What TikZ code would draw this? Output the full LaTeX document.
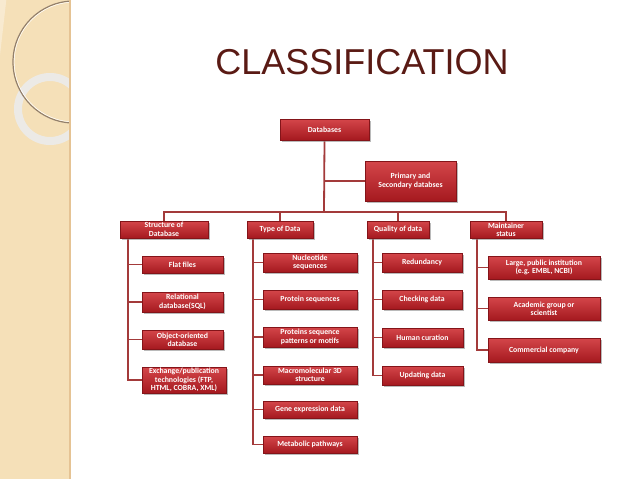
\documentclass[tikz,border=0pt]{standalone}
\usepackage{fontspec}
\setmainfont{Carlito}
\newfontfamily\titlefont{Liberation Sans}
\usetikzlibrary{shadows,backgrounds}
\definecolor{boxtop}{HTML}{D4464A}
\definecolor{boxbot}{HTML}{A5191F}
\definecolor{linkc}{HTML}{A33A3A}
\definecolor{bandc}{HTML}{F5E0B8}
\definecolor{titlec}{HTML}{5A1A14}
\tikzset{
  x=1pt,y=-1pt,
  bx/.style={rectangle, draw=boxbot!80!black, line width=0.4pt, top color=boxtop, bottom color=boxbot,
    text=white, font=\fontsize{7.8}{8.4}\selectfont\bfseries, align=center, inner sep=0.5pt,
    drop shadow={shadow xshift=1.5pt, shadow yshift=-1.5pt, fill=black!45, opacity=0.6}},
  lk/.style={draw=linkc, line width=1.8pt}
}
\newcommand{\bxn}[6]{\node[bx, minimum width=#4-#2, minimum height=#5-#3] (#1) at ({(#2+#4)/2},{(#3+#5)/2}) {#6};}
\begin{document}
\begin{tikzpicture}
\useasboundingbox (0,0) rectangle (638,479);
% boxes
\bxn{db}{280}{119}{369}{140}{Databases}
\bxn{pr}{365}{161}{456}{201}{Primary and\\Secondary databses}
\bxn{sd}{120}{221}{208}{238}{Structure of\\Database}
\bxn{td}{247}{221}{313}{238}{Type of Data}
\bxn{qd}{367}{221}{429}{238}{Quality of data}
\bxn{ms}{470}{221}{542}{238}{Maintainer\\status}
\bxn{ff}{142}{256}{223}{273}{Flat files}
\bxn{rd}{142}{292}{223}{312}{Relational\\database(SQL)}
\bxn{oo}{142}{330}{223}{349}{Object-oriented\\database}
\bxn{ex}{142}{367}{226}{393}{Exchange/publication\\technologies (FTP,\\HTML, COBRA, XML)}
\bxn{ns}{263}{253}{357}{272}{Nucleotide\\sequences}
\bxn{ps}{263}{290}{357}{309}{Protein sequences}
\bxn{pp}{263}{327}{357}{347}{Proteins sequence\\patterns or motifs}
\bxn{mm}{263}{366}{357}{384}{Macromolecular 3D\\structure}
\bxn{ge}{263}{401}{357}{418}{Gene expression data}
\bxn{mp}{263}{436}{357}{453}{Metabolic pathways}
\bxn{re}{382}{253}{462}{272}{Redundancy}
\bxn{cd}{382}{290}{462}{309}{Checking data}
\bxn{hc}{382}{328}{463}{347}{Human curation}
\bxn{ud}{382}{366}{463}{385}{Updating data}
\bxn{lp}{488}{256}{600}{279}{Large, public institution\\(e.g. EMBL, NCBI)}
\bxn{ag}{488}{297}{600}{320}{Academic group or\\scientist}
\bxn{cc}{488}{338}{600}{362}{Commercial company}
\node[font=\titlefont\fontsize{36}{40}\selectfont, text=titlec] (title) at (362,62) {CLASSIFICATION};
\begin{scope}[on background layer]
\fill[white] (0,0) rectangle (638,479);
\fill[bandc] (0,0) rectangle (70,479);
\begin{scope}
\clip (0,0) rectangle (70,479);
\fill[white,opacity=0.35] (0,0) -- (56,0) arc[start angle=-10,end angle=-80,radius=55] -- (0,55) -- cycle;
\draw[white!85!gray, line width=8pt, opacity=0.9] (50,109) circle (32);
\draw[gray!70!brown, line width=1.2pt] (74,62) circle (61);
\draw[white, line width=0.5pt] (74,62) circle (59.8);
\end{scope}
\draw[bandc!70!brown, line width=1.5pt] (70,0) -- (70,479);
\coordinate (bus) at (324,212);
\draw[lk] (db.south) -- (bus);
\draw[lk] (db.south |- pr.west) -- (pr.west);
\draw[lk] (sd.north) |- (bus) -| (ms.north);
\draw[lk] (td.north) |- (bus);
\draw[lk] (qd.north) |- (bus);
\foreach \c in {ff,rd,oo,ex} \draw[lk] ([xshift=8pt]sd.south west) |- (\c.west);
\foreach \c in {ns,ps,pp,mm,ge,mp} \draw[lk] ([xshift=6pt]td.south west) |- (\c.west);
\foreach \c in {re,cd,hc,ud} \draw[lk] ([xshift=6pt]qd.south west) |- (\c.west);
\foreach \c in {lp,ag,cc} \draw[lk] ([xshift=7pt]ms.south west) |- (\c.west);
\end{scope}
\end{tikzpicture}
\end{document}
